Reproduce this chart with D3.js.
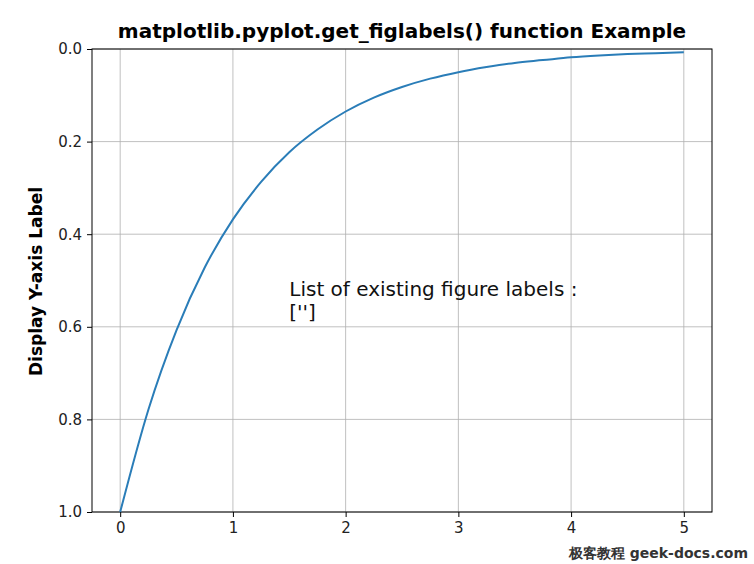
<!DOCTYPE html>
<html>
<head>
<meta charset="utf-8">
<script src="https://cdn.jsdelivr.net/npm/d3@7.9.0/dist/d3.min.js"></script>
<style>
  body { margin: 0; background: #fff; }
  text { font-family: "DejaVu Sans", sans-serif; }
</style>
</head>
<body>
<div id="chart"></div>
<script>
const xValues = [0, 0.25, 0.5, 0.75, 1, 1.25, 1.5, 1.75, 2, 2.25, 2.5, 2.75, 3, 3.25, 3.5, 3.75, 4, 4.25, 4.5, 4.75, 5];
const yValues = [1, 0.779, 0.607, 0.472, 0.368, 0.287, 0.223, 0.174, 0.135, 0.105, 0.082, 0.064, 0.050, 0.039, 0.030, 0.024, 0.018, 0.014, 0.011, 0.009, 0.007];
const xTicks = [0, 1, 2, 3, 4, 5];
const yTicks = [0.0, 0.2, 0.4, 0.6, 0.8, 1.0];

const width = 754, height = 564;
const margin = { top: 49, right: 42, bottom: 52, left: 92 };

const svg = d3.select('#chart').append('svg')
  .attr('width', width).attr('height', height);

const x = d3.scaleLinear().domain([-0.25, 5.25])
  .range([margin.left, width - margin.right]);
const y = d3.scaleLinear().domain([0, 1])
  .range([margin.top, height - margin.bottom]);

// grid
svg.append('g').selectAll('line').data(xTicks).join('line')
  .attr('x1', d => x(d)).attr('x2', d => x(d))
  .attr('y1', margin.top).attr('y2', height - margin.bottom)
  .attr('stroke', '#b0b0b0').attr('stroke-width', 0.8);
svg.append('g').selectAll('line').data(yTicks).join('line')
  .attr('x1', margin.left).attr('x2', width - margin.right)
  .attr('y1', d => y(d)).attr('y2', d => y(d))
  .attr('stroke', '#b0b0b0').attr('stroke-width', 0.8);

const xAxis = svg.append('g')
  .attr('transform', `translate(0,${height - margin.bottom})`)
  .call(d3.axisBottom(x).tickValues(xTicks).tickFormat(d3.format('d')).tickSizeOuter(0).tickSize(5).tickPadding(5));
const yAxis = svg.append('g')
  .attr('transform', `translate(${margin.left},0)`)
  .call(d3.axisLeft(y).tickValues(yTicks).tickFormat(d3.format('.1f')).tickSizeOuter(0).tickSize(5).tickPadding(5));
[xAxis, yAxis].forEach(g => {
  g.select('.domain').remove();
  g.selectAll('text').attr('font-size', 15).attr('fill', '#222');
});

svg.append('rect')
  .attr('x', margin.left).attr('y', margin.top)
  .attr('width', width - margin.left - margin.right)
  .attr('height', height - margin.top - margin.bottom)
  .attr('fill', 'none').attr('stroke', '#000').attr('stroke-width', 1);

const line = d3.line()
  .x((d, i) => x(xValues[i]))
  .y(d => y(d))
  .curve(d3.curveMonotoneX);

svg.append('path').datum(yValues)
  .attr('fill', 'none').attr('stroke', '#2a7db8').attr('stroke-width', 2)
  .attr('d', line);

svg.append('text')
  .attr('x', 402).attr('y', 38)
  .attr('text-anchor', 'middle').attr('font-size', 20).attr('font-weight', 'bold')
  .text('matplotlib.pyplot.get_figlabels() function Example');

svg.append('text')
  .attr('transform', `translate(42,${(margin.top + height - margin.bottom) / 2 + 1}) rotate(-90)`)
  .attr('text-anchor', 'middle').attr('font-size', 17).attr('font-weight', 'bold')
  .text('Display Y-axis Label');

const note = svg.append('text')
  .attr('y', 296).attr('font-size', 20).attr('fill', '#111');
note.append('tspan').attr('x', x(1.5)).text('List of existing figure labels :');
note.append('tspan').attr('x', x(1.5)).attr('dy', 23).text("['']");

svg.append('text')
  .attr('x', 748).attr('y', 558).attr('text-anchor', 'end')
  .attr('font-size', 14).attr('font-weight', 'bold').attr('fill', '#333')
  .attr('font-family', '"Noto Sans CJK SC", "DejaVu Sans Mono", monospace')
  .text('极客教程 geek-docs.com');
</script>
</body>
</html>
